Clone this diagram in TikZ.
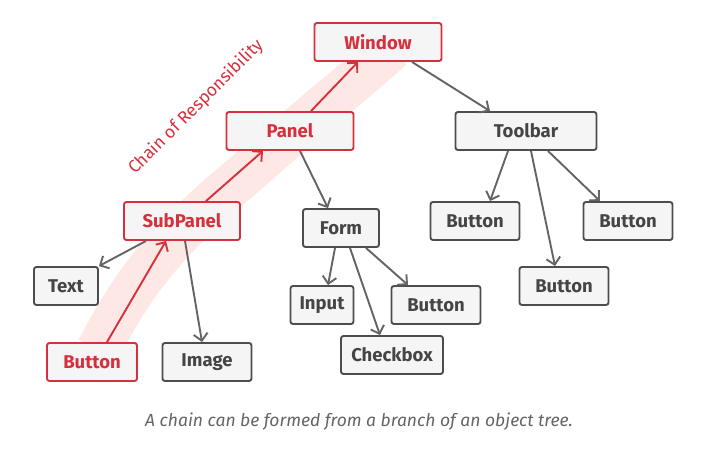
\documentclass[tikz,border=0pt]{standalone}
\usepackage{fontspec}
\setmainfont{Fira Sans}
\usetikzlibrary{arrows.meta}
\definecolor{chainRed}{RGB}{214, 48, 60}
\definecolor{boxGray}{RGB}{77, 77, 77}
\definecolor{arrowGray}{RGB}{100, 100, 100}
\definecolor{boxFill}{RGB}{245, 245, 245}
\definecolor{bandPink}{RGB}{253, 232, 229}

\tikzset{
    obj/.style={draw=boxGray, fill=boxFill, line width=1.9pt, rounded corners=2.5pt,
        minimum height=38pt, inner sep=0pt, font=\fontsize{18.5}{20}\selectfont\bfseries, text=boxGray!90!black},
    hot/.style={obj, draw=chainRed, text=chainRed},
    link/.style={draw=arrowGray, line width=1.9pt, -{Straight Barb[length=7pt,width=14pt]}},
    chain/.style={link, draw=chainRed}
}

\begin{document}
\begin{tikzpicture}[x=1pt, y=-1pt]
    \useasboundingbox (0,0) rectangle (718,451);

    % Highlighted branch
    \draw[bandPink, line width=44pt]
        (98,350) .. controls (135,280) and (165,240) .. (250,170)
        .. controls (300,125) and (345,90) .. (392,48);

    \node[rotate=45, text=chainRed, font=\fontsize{17.5}{19}\selectfont] (label) at (196,107) {Chain of Responsibility};

    % Object tree
    \node[hot, minimum width=127pt] (window) at (378,42) {Window};
    \node[hot, minimum width=127pt] (panel) at (290,131) {Panel};
    \node[hot, minimum width=116pt] (subpanel) at (182,221) {SubPanel};
    \node[obj, minimum width=64pt] (text) at (66,286) {Text};
    \node[hot, minimum width=90pt] (button) at (92,362) {Button};
    \node[obj, minimum width=89pt] (image) at (207,362) {Image};
    \node[obj, minimum width=76pt] (form) at (341,228) {Form};
    \node[obj, minimum width=63pt] (input) at (322,305) {Input};
    \node[obj, minimum width=89pt] (formButton) at (436,305) {Button};
    \node[obj, minimum width=102pt] (checkbox) at (392,355) {Checkbox};
    \node[obj, minimum width=141pt] (toolbar) at (526,131) {Toolbar};
    \node[obj, minimum width=89pt] (barButtonA) at (475,221) {Button};
    \node[obj, minimum width=89pt] (barButtonB) at (628,221) {Button};
    \node[obj, minimum width=89pt] (barButtonC) at (564,286) {Button};

    % Connectors
    \draw[link] ([xshift=34pt]window.south) -- ([xshift=-36pt]toolbar.north);
    \draw[link] ([xshift=10pt]panel.south) -- ([xshift=-13pt]form.north);
    \draw[link] ([xshift=-36pt]subpanel.south) -- (text.north east);
    \draw[link] ([xshift=3pt]subpanel.south) -- ([xshift=-5pt]image.north);
    \draw[link] ([xshift=-6pt]form.south) -- ([xshift=6pt]input.north);
    \draw[link] ([xshift=9pt]form.south) -- ([xshift=-12pt]checkbox.north);
    \draw[link] ([xshift=25pt]form.south) -- ([xshift=-28pt]formButton.north);
    \draw[link] ([xshift=-18pt]toolbar.south) -- ([xshift=15pt]barButtonA.north);
    \draw[link] ([xshift=5pt]toolbar.south) -- ([xshift=-9pt]barButtonC.north);
    \draw[link] ([xshift=22pt]toolbar.south) -- ([xshift=-28pt]barButtonB.north);

    % Chain
    \draw[chain] ([xshift=15pt]button.north) -- ([xshift=-16pt]subpanel.south);
    \draw[chain] ([xshift=24pt]subpanel.north) -- ([xshift=-27pt]panel.south);
    \draw[chain] ([xshift=21pt]panel.north) -- ([xshift=-20pt]window.south);

    \node[text=arrowGray, font=\fontsize{17.5}{19}\selectfont\itshape] (caption) at (359,422)
        {A chain can be formed from a branch of an object tree.};
\end{tikzpicture}
\end{document}
